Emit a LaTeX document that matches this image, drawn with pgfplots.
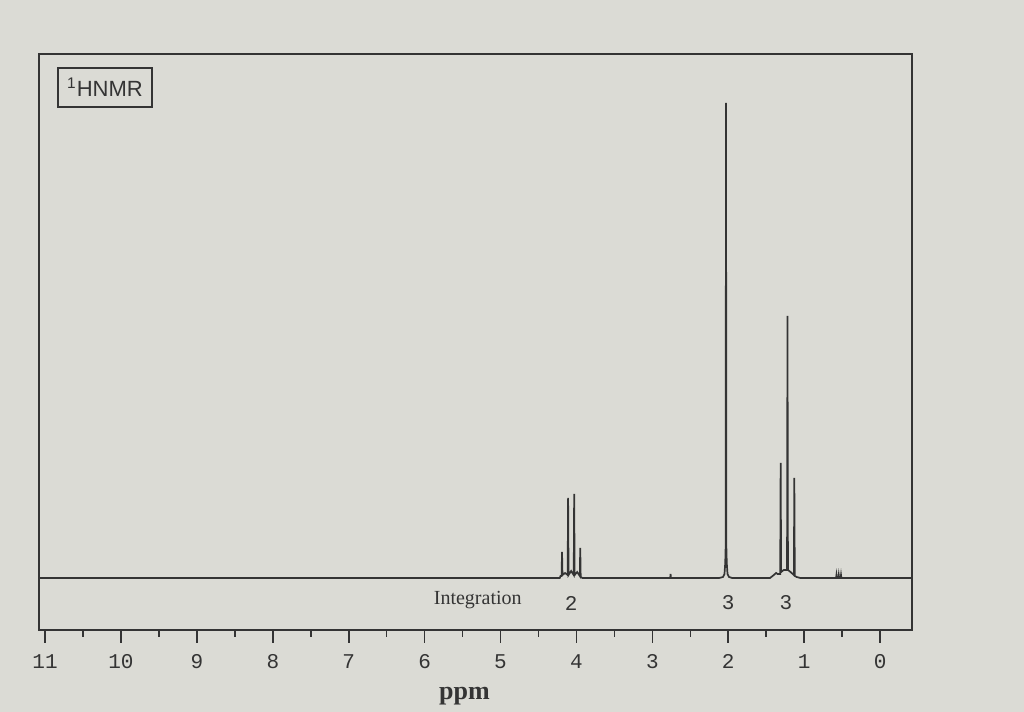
\documentclass[border=0pt]{standalone}
\usepackage{pgfplots}
\pgfplotsset{compat=1.18}
\usepackage{fontspec}
\setmainfont{Liberation Serif}
\newfontfamily\sansf{Liberation Sans}
\newfontfamily\monof{Liberation Mono}
\definecolor{bg}{RGB}{219,219,213}
\definecolor{ink}{RGB}{52,52,52}
\begin{document}
\begin{tikzpicture}
\fill[bg] (0,0) rectangle (512pt,356pt);
\begin{axis}[
  at={(19.5pt,41pt)}, anchor=south west,
  scale only axis, width=436.5pt, height=288pt,
  x dir=reverse, xmin=-0.42, xmax=11.08, ymin=-52, ymax=524,
  axis line style={ink, line width=0.9pt},
  xtick={0,1,...,11}, minor xtick={0.5,1.5,...,10.5},
  xtick pos=bottom, tick align=outside,
  major tick length=6.5pt, minor tick length=3.5pt,
  tick style={ink, line width=0.8pt},
  ytick=\empty,
  /pgf/number format/assume math mode=true,
  xticklabel style={font=\monof\fontsize{10.5}{12}\selectfont, text=ink,
                    text height=7.5pt, text depth=0pt, yshift=-1.5pt},
  xlabel={\bfseries ppm},
  xlabel style={font=\fontsize{13}{15}\selectfont, text=ink, xshift=-5.5pt, yshift=-2.5pt},
  clip=false,
]
\addplot[ink, line width=0.85pt] coordinates {
(11.08,0) (4.30,0) (4.22,0) (4.21,2) (4.196,2) (4.19,26) (4.184,3) (4.15,5)
(4.116,3) (4.11,80) (4.104,3) (4.07,7) (4.036,3) (4.03,84) (4.024,3)
(3.99,6) (3.956,2) (3.95,30) (3.944,1) (3.92,0)
(2.80,0) (2.765,0) (2.76,4) (2.755,0)
(2.12,0) (2.07,1) (2.05,4) (2.04,15) (2.035,30) (2.03,475) (2.025,30)
(2.02,15) (2.01,4) (1.99,1) (1.95,0)
(1.45,0) (1.40,3) (1.37,5) (1.35,4) (1.316,4) (1.31,115) (1.304,6)
(1.27,8) (1.226,8) (1.22,262) (1.214,8) (1.18,6) (1.136,3) (1.13,100)
(1.124,2) (1.10,1) (1.05,0)
(0.58,0) (0.575,3) (0.57,0) (0.55,0) (0.545,3) (0.54,0) (0.52,0)
(0.515,3) (0.51,0) (-0.42,0)
};
\node[font=\fontsize{10}{12}\selectfont, text=ink] at (axis cs:5.3,-22) {Integration};
\node[font=\monof\fontsize{10.5}{12}\selectfont, text=ink] at (axis cs:4.07,-25) {2};
\node[font=\monof\fontsize{10.5}{12}\selectfont, text=ink] at (axis cs:2.0,-25) {3};
\node[font=\monof\fontsize{10.5}{12}\selectfont, text=ink] at (axis cs:1.24,-25) {3};
\end{axis}
\node[draw=ink, line width=0.7pt, font=\sansf\fontsize{11}{13}\selectfont, text=ink,
      minimum width=47pt, minimum height=19.5pt, inner sep=0pt]
      at (52.5pt,312.25pt) {\textsuperscript{1}HNMR};
\end{tikzpicture}
\end{document}
